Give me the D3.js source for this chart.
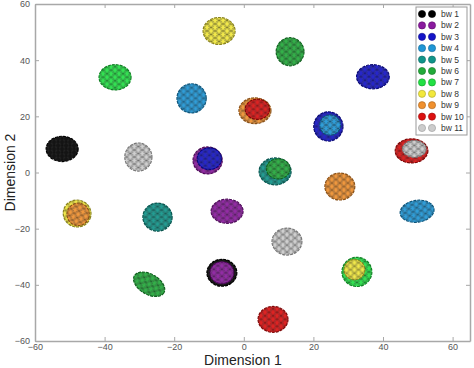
<!DOCTYPE html>
<html>
<head>
<meta charset="utf-8">
<script src="https://cdnjs.cloudflare.com/ajax/libs/d3/7.8.5/d3.min.js"></script>
<style>
    body { margin: 0; background: #fff; }
    text { font-family: "Liberation Sans", Arial, sans-serif; }
    .axis path { stroke: #a8a8a8; stroke-width: 1.5; }
    .axis line { stroke: #a8a8a8; }
    .axis text { fill: #555; font-size: 9px; }
</style>
</head>
<body>
<div id="chart"></div>
<script>

// series
var seriesNames = ["bw 1", "bw 2", "bw 3", "bw 4", "bw 5", "bw 6", "bw 7", "bw 8", "bw 9", "bw 10", "bw 11"];
var seriesColors = ["#000000", "#8a1a9e", "#1414c8", "#1e96d6", "#10958a", "#22aa3a",
    "#22e044", "#f2e83c", "#f0902e", "#dc1010", "#cccccc"];

// clusters: [series, centre x, centre y, spread x, spread y, tilt deg]
var clusters = [
    [0, -52.2, 8.4, 4.6, 4.5, 0],
    [0, -6.3, -35.7, 4.3, 4.8, 0],
    [1, -4.8, -13.8, 4.6, 4.3, 0],
    [1, -10.4, 4.3, 4.2, 4.8, 0],
    [2, 37.1, 34.1, 4.7, 4.3, 0],
    [2, 24.3, 16.4, 4.2, 5.2, 0],
    [3, -15.0, 26.4, 4.2, 5.2, 0],
    [3, 49.8, -13.8, 4.9, 3.9, -8],
    [4, -24.8, -15.9, 4.2, 5.0, 0],
    [4, 9.0, 0.4, 4.6, 4.8, 0],
    [5, 13.3, 43.0, 4.0, 5.0, 0],
    [5, -27.2, -39.8, 4.9, 3.6, 30],
    [6, -37.0, 33.9, 4.6, 4.5, 0],
    [6, 32.5, -35.4, 4.3, 5.2, 0],
    [7, -7.1, 50.4, 4.6, 4.8, 0],
    [7, -47.9, -14.6, 4.0, 4.8, 15],
    [8, 27.6, -5.0, 4.3, 4.8, 0],
    [8, 3.2, 22.0, 4.6, 4.6, 0],
    [9, 8.4, -52.3, 4.3, 4.6, 0],
    [9, 48.2, 7.7, 4.7, 4.3, 0],
    [10, -30.3, 5.5, 3.9, 5.0, 0],
    [10, 12.4, -24.6, 4.3, 4.8, 0]
];

// points of one series sitting on top of another series' cluster
var mixedClusters = [
    [1, -6.3, -35.7, 3.4, 3.9, 0],
    [2, -9.9, 4.9, 3.5, 3.9, 0],
    [3, 24.8, 16.9, 3.0, 3.6, 0],
    [5, 9.9, 1.3, 3.4, 3.6, 0],
    [7, 31.8, -34.6, 3.0, 3.6, 0],
    [8, -47.6, -14.9, 3.2, 4.0, 15],
    [9, 3.9, 22.5, 3.5, 3.6, 0],
    [10, 49.0, 8.4, 3.4, 3.0, 0]
];

var tickValues = [-60, -40, -20, 0, 20, 40, 60];

var W = 474, H = 368;
var margin = { top: 4, right: 4, bottom: 27, left: 35 };

var svg = d3.select("#chart").append("svg")
    .attr("width", W)
    .attr("height", H);

var x = d3.scaleLinear().domain([-60, 65]).range([margin.left, W - margin.right]);
var y = d3.scaleLinear().domain([-60, 60]).range([H - margin.bottom, margin.top]);

// bubble texture for the clusters
var defs = svg.append("defs");
var pat = defs.append("pattern")
    .attr("id", "bubbles")
    .attr("patternUnits", "userSpaceOnUse")
    .attr("width", 8)
    .attr("height", 7);
[[0, 0], [8, 0], [4, 3.5], [0, 7], [8, 7]].forEach(function (p) {
    pat.append("circle")
        .attr("cx", p[0]).attr("cy", p[1]).attr("r", 3.4)
        .attr("fill", "#fff")
        .attr("fill-opacity", 0.08)
        .attr("stroke", "#000")
        .attr("stroke-opacity", 0.32)
        .attr("stroke-width", 0.8);
});

function drawClusters(list, cls) {
    var g = svg.append("g").attr("class", cls);
    var blobs = g.selectAll("g")
        .data(list)
        .enter().append("g")
        .attr("transform", function (d) {
            return "translate(" + x(d[1]) + "," + y(d[2]) + ") rotate(" + d[5] + ")";
        });
    blobs.append("ellipse")
        .attr("rx", function (d) { return x(d[1] + d[3]) - x(d[1]); })
        .attr("ry", function (d) { return y(d[2]) - y(d[2] + d[4]); })
        .attr("fill", function (d) { return seriesColors[d[0]]; })
        .attr("stroke", function (d) {
            return d[0] == 10 ? "#777" : d3.color(seriesColors[d[0]]).darker(1.6);
        })
        .attr("stroke-width", 1.2)
        .attr("stroke-dasharray", "3,1");
    blobs.append("ellipse")
        .attr("rx", function (d) { return x(d[1] + d[3]) - x(d[1]) - 0.6; })
        .attr("ry", function (d) { return y(d[2]) - y(d[2] + d[4]) - 0.6; })
        .attr("fill", "url(#bubbles)");
}

drawClusters(clusters, "clusters");
drawClusters(mixedClusters, "mixed");

// axes, ticks pointing inward on all four sides
svg.append("g")
    .attr("class", "axis")
    .attr("transform", "translate(0," + y(-60) + ")")
    .call(d3.axisBottom(x).tickValues(tickValues).tickSize(-4).tickPadding(3).tickSizeOuter(0))
    .selectAll("text").text(function (d) { return d < 0 ? "\u2212" + (-d) : d; });

svg.append("g")
    .attr("class", "axis")
    .attr("transform", "translate(0," + y(60) + ")")
    .call(d3.axisTop(x).tickValues(tickValues).tickSize(-4).tickSizeOuter(0).tickFormat(""));

svg.append("g")
    .attr("class", "axis")
    .attr("transform", "translate(" + x(-60) + ",0)")
    .call(d3.axisLeft(y).tickValues(tickValues).tickSize(-4).tickPadding(5).tickSizeOuter(0))
    .selectAll("text").text(function (d) { return d < 0 ? "\u2212" + (-d) : d; });

svg.append("g")
    .attr("class", "axis")
    .attr("transform", "translate(" + x(65) + ",0)")
    .call(d3.axisRight(y).tickValues(tickValues).tickSize(-4).tickSizeOuter(0).tickFormat(""));

// axis titles
svg.append("text")
    .attr("x", 243)
    .attr("y", H - 3)
    .attr("text-anchor", "middle")
    .style("font-size", "14px")
    .attr("fill", "#222")
    .text("Dimension 1");

svg.append("text")
    .attr("transform", "translate(15," + y(0) + ") rotate(-90)")
    .attr("text-anchor", "middle")
    .style("font-size", "14px")
    .attr("fill", "#222")
    .text("Dimension 2");

// legend
var leg = svg.append("g").attr("transform", "translate(416,7)");
leg.append("rect")
    .attr("width", 51)
    .attr("height", 128)
    .attr("fill", "#fff")
    .attr("stroke", "#999")
    .attr("stroke-width", 1);

var rows = leg.selectAll("g.row")
    .data(seriesNames)
    .enter().append("g")
    .attr("class", "row")
    .attr("transform", function (d, i) { return "translate(0," + (7 + i * 11.4) + ")"; });

[6, 16].forEach(function (cx) {
    rows.append("circle")
        .attr("cx", cx)
        .attr("r", 3.6)
        .attr("fill", function (d, i) { return seriesColors[i]; })
        .attr("stroke", function (d, i) { return i == 10 ? "#999" : d3.color(seriesColors[i]).darker(1); })
        .attr("stroke-width", 0.6);
});

rows.append("text")
    .attr("x", 25)
    .attr("dy", "0.35em")
    .style("font-size", "8.5px")
    .attr("fill", "#333")
    .text(function (d) { return d; });

</script>
</body>
</html>
